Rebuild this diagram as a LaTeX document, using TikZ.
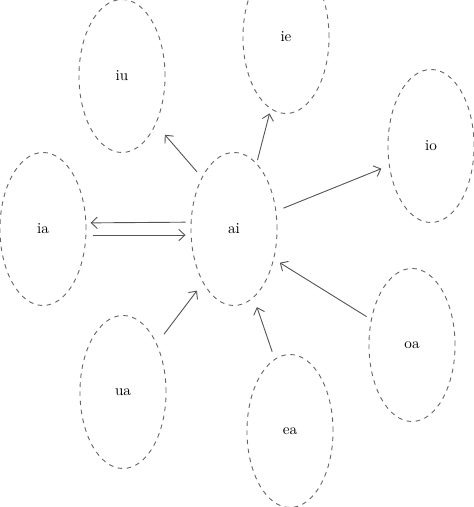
\documentclass[tikz,border=0pt]{standalone}
\usepackage{xcolor}
\usepackage{tikz}
\usetikzlibrary{shapes.geometric,arrows.meta}
\definecolor{rim}{HTML}{666666}
\definecolor{edge}{HTML}{555555}
\tikzset{
  vowel/.style={ellipse, draw=rim, dashed, line width=0.6pt, inner sep=0pt,
    minimum width=56.8pt, minimum height=101pt, font=\normalsize},
  arr/.style={draw=edge, line width=0.6pt, -{Straight Barb[length=4pt,width=7.5pt]}},
}
\begin{document}
\begin{tikzpicture}[x=0.66pt, y=0.66pt]
  \useasboundingbox (0,0) rectangle (474,507);

  % pairs
  \node[vowel] (iu) at (122,431) {iu};
  \node[vowel] (ie) at (286,470) {ie};
  \node[vowel] (io) at (431,361) {io};
  \node[vowel] (ia) at (43,278) {ia};
  \node[vowel] (ai) at (234,278) {ai};
  \node[vowel] (ua) at (123,115) {ua};
  \node[vowel] (ea) at (290,76) {ea};
  \node[vowel] (oa) at (412,162) {oa};

  % links
  \foreach \s/\as/\t/\at/\gs/\gt in {
      ai/122.3/iu/-55.7/4.8pt/9.1pt,
      ai/71.6/ie/258.1/2.2pt/3.0pt,
      ai/23.2/io/205.1/5.1pt/5.4pt,
      ai/171.7/ia/8.5/3.4pt/2.8pt,
      ia/-8.1/ai/188.3/4.1pt/3.4pt,
      ua/55.4/ai/240.9/7.8pt/6.5pt,
      ea/102.1/ai/-74.2/5.1pt/6.6pt,
      oa/148.1/ai/-37.1/3.4pt/4.5pt}{
    \draw[arr, shorten <=\gs, shorten >=\gt] (\s.\as) -- (\t.\at);
  }
\end{tikzpicture}
\end{document}
